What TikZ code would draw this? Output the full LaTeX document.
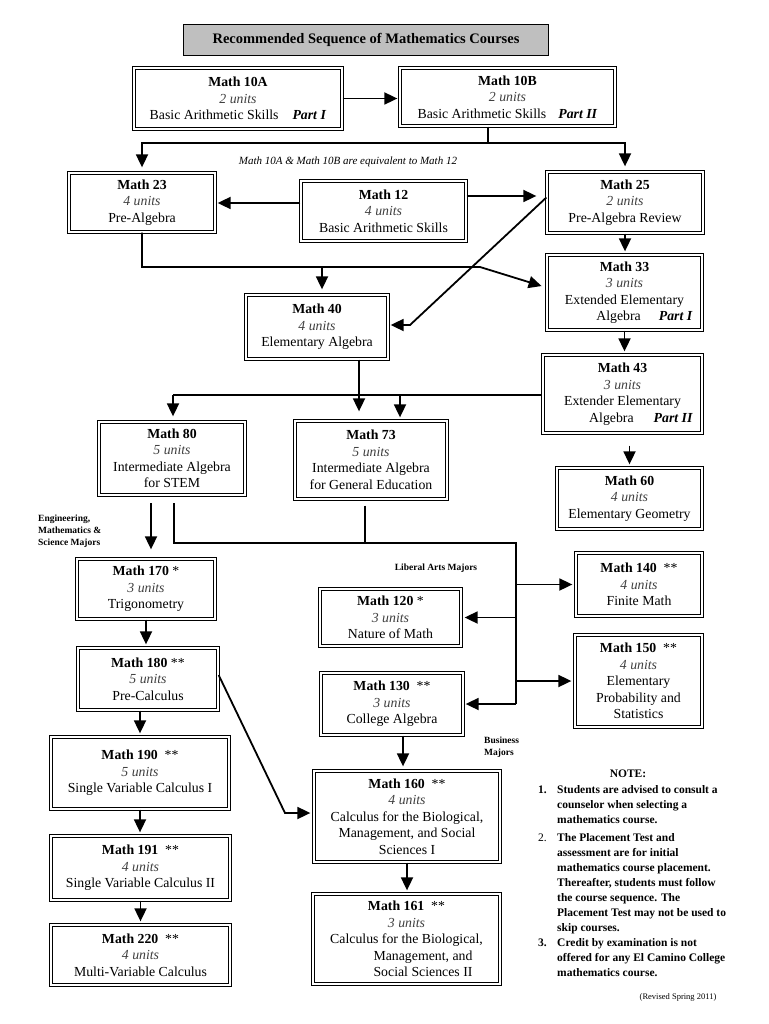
\documentclass[tikz,border=0pt]{standalone}
\usepackage{fontspec}
\setmainfont{Liberation Serif}
\usetikzlibrary{arrows.meta}
\newcommand\boxfont{\fontsize{13.8}{16.5}\selectfont}
\newcommand\unitstxt[1]{{\color{black!75}\itshape #1}}
\newcommand\partlbl[1]{\textbf{\textit{#1}}}
\tikzset{
  course/.style={draw, double, double distance=1.8pt, line width=0.9pt, fill=white,
    align=center, inner sep=0pt, font=\boxfont},
  sz/.style 2 args={minimum width=#1pt, minimum height=#2pt},
  conn/.style={line width=1.8pt},
  arr/.style={conn, -{Triangle[length=13pt,width=12pt]}},
  majorlbl/.style={font=\fontsize{9.5}{12}\selectfont\bfseries, inner sep=0pt},
}
\begin{document}
\begin{tikzpicture}[x=1pt,y=1pt]
\useasboundingbox (0,0) rectangle (768,-1024);
\fill[white] (0,0) rectangle (768,-1024);

% title
\node[draw, line width=1pt, fill=black!25, inner sep=0pt, minimum width=365pt, minimum height=31pt,
  font=\fontsize{14.5}{17}\selectfont\bfseries] (title) at (366,-40) {Recommended Sequence of Mathematics Courses};

% courses
\node[course, sz={208.4}{61.4}] (m10a) at (238,-98.5) {\textbf{Math 10A}\\\unitstxt{2 units}\\Basic Arithmetic Skills\hspace{14pt}\partlbl{Part I}};
\node[course, sz={215.4}{58.4}] (m10b) at (507.5,-97) {\textbf{Math 10B}\\\unitstxt{2 units}\\Basic Arithmetic Skills\hspace{12pt}\partlbl{Part II}};
\node[course, sz={146.4}{59.4}] (m23) at (142,-202.5) {\textbf{Math 23}\\\unitstxt{4 units}\\Pre-Algebra};
\node[course, sz={165.4}{60.4}] (m12) at (383.5,-211) {\textbf{Math 12}\\\unitstxt{4 units}\\Basic Arithmetic Skills};
\node[course, sz={156.4}{61.4}] (m25) at (625,-202.5) {\textbf{Math 25}\\\unitstxt{2 units}\\Pre-Algebra Review};
\node[course, sz={155.4}{75.4}] (m33) at (624.5,-292.5) {\textbf{Math 33}\\\unitstxt{3 units}\\Extended Elementary\\\hspace*{40pt}Algebra\hspace{18pt}\partlbl{Part I}};
\node[course, sz={142.4}{64.4}] (m40) at (317,-327) {\textbf{Math 40}\\\unitstxt{4 units}\\Elementary Algebra};
\node[course, sz={159.4}{78.4}] (m43) at (622.5,-394) {\textbf{Math 43}\\\unitstxt{3 units}\\Extender Elementary\\\hspace*{37pt}Algebra\hspace{20pt}\partlbl{Part II}};
\node[course, sz={146.4}{73.4}] (m80) at (172,-458.5) {\textbf{Math 80}\\\unitstxt{5 units}\\Intermediate Algebra\\for STEM};
\node[course, sz={152.4}{78.4}] (m73) at (371,-460) {\textbf{Math 73}\\\unitstxt{5 units}\\Intermediate Algebra\\for General Education};
\node[course, sz={145.4}{61.4}] (m60) at (629.5,-498.5) {\textbf{Math 60}\\\unitstxt{4 units}\\Elementary Geometry};
\node[course, sz={138.4}{60.4}] (m170) at (146,-589) {\textbf{Math 170}\ *\\\unitstxt{3 units}\\Trigonometry};
\node[course, sz={126.4}{63.4}] (m140) at (639,-584.5) {\textbf{Math 140}\ \ **\\\unitstxt{4 units}\\Finite Math};
\node[course, sz={141.4}{57.4}] (m120) at (390.5,-617.5) {\textbf{Math 120}\ *\\\unitstxt{3 units}\\Nature of Math};
\node[course, sz={127.4}{92.4}] (m150) at (638.5,-681) {\textbf{Math 150}\ \ **\\\unitstxt{4 units}\\Elementary\\Probability and\\Statistics};
\node[course, sz={140.4}{62.4}] (m180) at (148,-679) {\textbf{Math 180}\ **\\\unitstxt{5 units}\\Pre-Calculus};
\node[course, sz={142.4}{62.4}] (m130) at (392,-704) {\textbf{Math 130}\ \ **\\\unitstxt{3 units}\\College Algebra};
\node[course, sz={178.4}{72.4}] (m190) at (140,-773) {\textbf{Math 190}\ \ **\\\unitstxt{5 units}\\Single Variable Calculus I};
\node[course, sz={186.4}{91.4}] (m160) at (407,-816.5) {\textbf{Math 160}\ \ **\\\unitstxt{4 units}\\Calculus for the Biological,\\Management, and Social\\Sciences I};
\node[course, sz={179.4}{64.4}] (m191) at (140.5,-868) {\textbf{Math 191}\ \ **\\\unitstxt{4 units}\\Single Variable Calculus II};
\node[course, sz={187.4}{90.4}] (m161) at (406.5,-939) {\textbf{Math 161}\ \ **\\\unitstxt{3 units}\\Calculus for the Biological,\\\hspace*{33pt}Management, and\\\hspace*{33pt}Social Sciences II};
\node[course, sz={179.4}{60.4}] (m220) at (140.5,-955) {\textbf{Math 220}\ \ **\\\unitstxt{4 units}\\Multi-Variable Calculus};

% labels
\node[font=\fontsize{11}{13}\selectfont\itshape, inner sep=0pt] (eqnote) at (348,-162) {Math 10A \& Math 10B are equivalent to Math 12};
\node[majorlbl, anchor=west, align=left] (eng) at (38,-531) {Engineering,\\Mathematics \&\\Science Majors};
\node[majorlbl] (lib) at (436,-568) {Liberal Arts Majors};
\node[majorlbl, anchor=west, align=left] (bus) at (484,-747) {Business\\Majors};
\node[font=\fontsize{11.5}{14}\selectfont\bfseries, inner sep=0pt] (notehead) at (628,-774) {NOTE:};
\node[anchor=base west, inner sep=0pt, font=\fontsize{11.5}{15}\selectfont] (notes) at (538,-793) {%
\begin{tabular}[t]{@{}p{19pt}@{}l@{}}
\textbf{1.} & \textbf{Students are advised to consult a}\\
 & \textbf{counselor when selecting a}\\
 & \textbf{mathematics course.}\\[3pt]
2. & \textbf{The Placement Test and}\\
 & \textbf{assessment are for initial}\\
 & \textbf{mathematics course placement.}\\
 & \textbf{Thereafter, students must follow}\\
 & \textbf{the course sequence. The}\\
 & \textbf{Placement Test may not be used to}\\
 & \textbf{skip courses.}\\
\textbf{3.} & \textbf{Credit by examination is not}\\
 & \textbf{offered for any El Camino College}\\
 & \textbf{mathematics course.}
\end{tabular}};
\node[font=\fontsize{8.5}{10}\selectfont, inner sep=0pt] (rev) at (678,-997) {(Revised Spring 2011)};

% connectors
\draw[arr, shorten >=2pt] (m10a.east) -- (m10a.east -| m10b.west);
\coordinate (j1) at (488,-143);
\draw[conn] (m10b.south -| j1) -- (j1);
\draw[arr, shorten >=5pt] (j1) -| (m23.north);
\draw[arr, shorten >=5pt] (j1) -| (m25.north);

\draw[arr, shorten >=2pt] ([yshift=8pt]m12.west) -- ([yshift=8pt]m12.west -| m23.east);
\draw[arr, shorten >=10pt] ([yshift=15pt]m12.east) -- ([yshift=15pt]m12.east -| m25.west);

\coordinate (c1) at (480,-267);
\draw[arr, shorten >=5pt] (m23.south) |- (c1) -- ([yshift=5pt]m33.west);
\draw[arr, shorten >=5pt] ([xshift=5pt]m40.north |- c1) -- ([xshift=5pt]m40.north);

\coordinate (c2) at (410,-325);
\draw[arr, shorten >=2pt] ([yshift=5pt]m25.west) -- (c2) -- (c2 -| m40.east);

\draw[arr, shorten >=3pt] (m25.south) -- (m25.south |- m33.north);
\draw[arr, shorten >=3pt] (m33.south) -- (m33.south |- m43.north);
\draw[arr, shorten >=3pt] ([yshift=-12pt]m43.south -| m60.north) -- (m60.north);

\coordinate (h1) at (173,-395);
\coordinate (h2) at (359,-395);
\coordinate (h3) at (400,-395);
\draw[conn] (h1) -- (h1 -| m43.west);
\draw[conn] (m40.south -| h2) -- (h2);
\draw[arr, shorten >=5pt] (h1) -- (h1 |- m80.north);
\draw[arr, shorten >=9pt] (h2) -- (h2 |- m73.north);
\draw[arr, shorten >=3pt] (h3) -- (h3 |- m73.north);

\coordinate (e1) at (151,-503);
\coordinate (e2) at (174,-503);
\coordinate (v1) at (516,-543);
\draw[arr, shorten >=9pt] (e1) -- (e1 |- m170.north);
\draw[conn] (e2) |- (v1) -- (v1 |- m130.east);
\draw[conn] ([xshift=-6pt,yshift=-6pt]m73.south) -- ([xshift=-6pt]m73.south |- v1);
\draw[arr, shorten >=3pt] (v1 |- m140.west) -- (m140.west);
\draw[arr, shorten >=3pt] (v1 |- m120.east) -- (m120.east);
\draw[arr, shorten >=3pt] (v1 |- m150.west) -- (m150.west);
\draw[arr, shorten >=2pt] (v1 |- m130.east) -- (m130.east);

\draw[arr, shorten >=3pt] (m170.south) -- (m170.south |- m180.north);
\draw[arr, shorten >=3pt] (m190.north |- m180.south) -- (m190.north);
\draw[arr, shorten >=3pt] (m190.south) -- (m190.south |- m191.north);
\draw[arr, shorten >=3pt] (m191.south) -- (m191.south |- m220.north);

\coordinate (c3) at (285,-813);
\draw[arr, shorten >=3pt] ([yshift=4pt]m180.east) -- (c3) -- (c3 -| m160.west);
\draw[arr, shorten >=4pt] ([xshift=11pt]m130.south) -- ([xshift=11pt]m130.south |- m160.north);
\draw[arr, shorten >=3pt] (m160.south) -- (m160.south |- m161.north);
\end{tikzpicture}
\end{document}
